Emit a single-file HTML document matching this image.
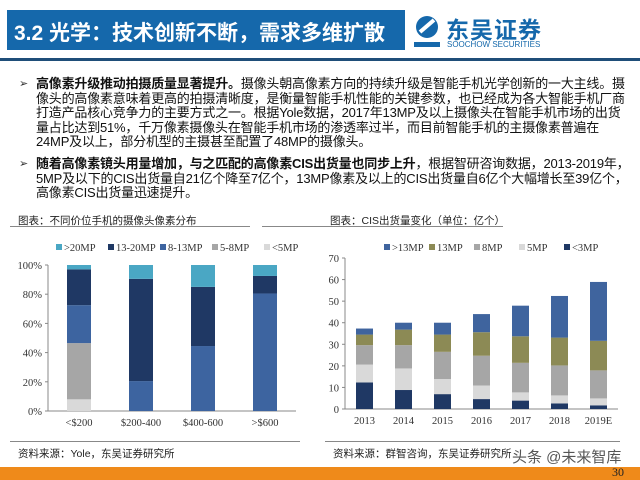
<!DOCTYPE html>
<html><head><meta charset="utf-8"><style>
body{margin:0;width:640px;height:480px;background:#fff;position:relative;overflow:hidden;font-family:"Liberation Sans","Noto Sans CJK SC",sans-serif}
.abs{position:absolute}
.para{position:absolute;left:36px;font-size:13px;line-height:14.6px;color:#111;letter-spacing:-0.2px;white-space:nowrap}
.arrow{position:absolute;left:19px;font-size:11px;color:#333}
.src{font-size:10.5px;color:#222}
</style></head><body>
<div class="abs" style="left:7px;top:10px;width:398px;height:40px;background:#1568ab"></div>
<div class="abs" style="left:14px;top:17px;color:#fff;font-size:21px;font-weight:bold;white-space:nowrap">3.2 光学：技术创新不断，需求多维扩散</div>
<div class="abs" style="left:412px;top:12px;width:225px;height:42px">
<svg width="30" height="36" style="position:absolute;left:0;top:2px"><circle cx="15" cy="13" r="11" fill="#1568ab"/><path d="M8 18 L22 6" stroke="#fff" stroke-width="4"/><rect x="2" y="28" width="26" height="5" fill="#1568ab"/></svg>
<div class="abs" style="left:34px;top:-1px;font-size:23px;font-weight:bold;color:#1568ab;letter-spacing:1px;white-space:nowrap">东吴证券</div>
<div class="abs" style="left:35px;top:28px;font-size:8px;color:#1568ab;white-space:nowrap">SOOCHOW SECURITIES</div>
</div>
<div class="abs" style="left:0;top:58px;width:640px;height:3px;background:#1f4e79"></div>

<div class="arrow" style="top:77px">➢</div>
<div class="para" style="top:77px"><b>高像素升级推动拍摄质量显著提升。</b>摄像头朝高像素方向的持续升级是智能手机光学创新的一大主线。摄<br>像头的高像素意味着更高的拍摄清晰度，是衡量智能手机性能的关键参数，也已经成为各大智能手机厂商<br>打造产品核心竞争力的主要方式之一。根据Yole数据，2017年13MP及以上摄像头在智能手机市场的出货<br>量占比达到51%，千万像素摄像头在智能手机市场的渗透率过半，而目前智能手机的主摄像素普遍在<br>24MP及以上，部分机型的主摄甚至配置了48MP的摄像头。</div>
<div class="arrow" style="top:157px">➢</div>
<div class="para" style="top:157px"><b>随着高像素镜头用量增加，与之匹配的高像素CIS出货量也同步上升</b>，根据智研咨询数据，2013-2019年，<br>5MP及以下的CIS出货量自21亿个降至7亿个，13MP像素及以上的CIS出货量自6亿个大幅增长至39亿个，<br>高像素CIS出货量迅速提升。</div>

<div class="abs src" style="left:18px;top:213px">图表：不同价位手机的摄像头像素分布</div>
<div class="abs" style="left:10px;top:226px;width:240px;height:1px;background:#888"></div>
<div class="abs src" style="left:330px;top:213px">图表：CIS出货量变化（单位：亿个）</div>
<div class="abs" style="left:262px;top:226px;width:241px;height:1px;background:#888"></div>

<svg id="lc" class="abs" style="left:0;top:230px" width="310" height="205"></svg>
<svg id="rc" class="abs" style="left:320px;top:230px" width="320" height="205"></svg>

<div class="abs" style="left:10px;top:441px;width:290px;height:1px;background:#888"></div>
<div class="abs src" style="left:18px;top:446px">资料来源：Yole，东吴证券研究所</div>
<div class="abs" style="left:325px;top:441px;width:295px;height:1px;background:#888"></div>
<div class="abs src" style="left:333px;top:446px">资料来源：群智咨询，东吴证券研究所</div>
<div class="abs" style="left:512px;top:446px;font-size:15px;color:#555;white-space:nowrap">头条 @未来智库</div>
<div class="abs" style="left:0;top:467px;width:640px;height:13px;background:#ef8a1a"></div>
<div class="abs" style="left:612px;top:465px;font-size:12px;font-family:'Liberation Serif',serif;color:#222">30</div>

<script>
const NS='http://www.w3.org/2000/svg';
function mk(p,t,a,txt){const e=document.createElementNS(NS,t);for(const k in a)e.setAttribute(k,a[k]);if(txt!==undefined)e.textContent=txt;p.appendChild(e);return e;}
// Left chart data
const lCats=['<$200','$200-400','$400-600','>$600'];
const lSeries=['<5MP','5-8MP','8-13MP','13-20MP','>20MP'];
const lColors=['#d9d9d9','#a6a6a6','#3d64a0','#1f3864','#4aa7c4'];
const lLt5=[8,0,0,0];
const l5to8=[38.5,0,0,0];
const l8to13=[26,20.5,44.5,80.5];
const l13to20=[24.5,70,40.5,12];
const lGt20=[3,9.5,15,7.5];
const lTicks=[0,20,40,60,80,100];
// Right chart data
const rCats=['2013','2014','2015','2016','2017','2018','2019E'];
const rSeries=['<3MP','5MP','8MP','13MP','>13MP'];
const rColors=['#1f3864','#d9d9d9','#a6a6a6','#8c8a55','#3f649e'];
const rLt3=[12.3,8.8,6.9,4.6,3.9,2.6,1.7];
const r5=[8.3,10,7,6.3,3.8,3.7,3.2];
const r8=[9,10.8,12.6,13.8,13.7,13.9,13];
const r13=[4.9,7.2,8,10.9,12.3,12.9,13.7];
const rGt13=[2.8,3.2,5.5,8.4,14.2,19.3,27.3];
const rTicks=[0,10,20,30,40,50,60,70];

function chart(svg,cats,series,colors,data,ticks,max,x0,x1,y0,y1,bw,fmt,legX,legW,legOrder){
  const sx=i=>x0+(x1-x0)/cats.length*(i+0.5);
  const sy=v=>y0-(v/max)*(y0-y1);
  const ff="Liberation Serif, serif";
  mk(svg,'line',{x1:x0,y1:y1,x2:x0,y2:y0,stroke:'#888'});
  mk(svg,'line',{x1:x0,y1:y0,x2:x1,y2:y0,stroke:'#888'});
  ticks.forEach(t=>{mk(svg,'line',{x1:x0-3,y1:sy(t),x2:x0,y2:sy(t),stroke:'#888'});
    const tl=mk(svg,'text',{x:x0-6,y:sy(t)+4,'text-anchor':'end','font-size':10.5,'font-family':ff,fill:'#333'},fmt(t));
    
    });
  cats.forEach((c,i)=>{
    let acc=0;
    data.forEach((s,k)=>{const v=s[i];if(v>0){const r=mk(svg,'rect',{x:sx(i)-bw/2,y:sy(acc+v),width:bw,height:sy(acc)-sy(acc+v),fill:colors[k]});
      
      }acc+=v;});
    const xl=mk(svg,'text',{x:sx(i),y:y0+15,'text-anchor':'middle','font-size':10.5,'font-family':ff,fill:'#333'},c);
    
    
  });
  legOrder.forEach((k,j)=>{const lx=legX+j*legW;
    mk(svg,'rect',{x:lx,y:14,width:6,height:6,fill:colors[k]});
    const lt=mk(svg,'text',{x:lx+8,y:21,'font-size':10.5,'font-family':ff,fill:'#333'},series[k]);
    
    });
}
chart(document.getElementById('lc'),lCats,lSeries,lColors,[lLt5,l5to8,l8to13,l13to20,lGt20],lTicks,100,48,296,181,35,24,t=>t+'%',56,52,[4,3,2,1,0]);
chart(document.getElementById('rc'),rCats,rSeries,rColors,[rLt3,r5,r8,r13,rGt13],rTicks,70,25,298,179,28,17,t=>String(t),64,45,[4,3,2,1,0]);
</script>
</body></html>
